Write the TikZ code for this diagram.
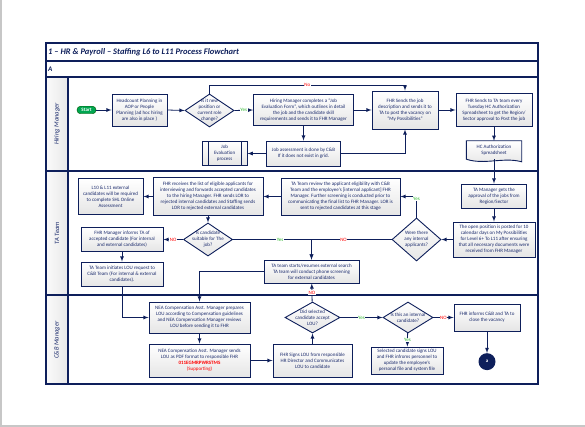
\documentclass[tikz,border=0pt]{standalone}
\usepackage{fontspec}
\setmainfont{Carlito}
\usepackage{tikz}
\usetikzlibrary{shapes.geometric}
\usetikzlibrary{positioning}
\usetikzlibrary{backgrounds}
\definecolor{navy}{HTML}{0E1F5B}
\definecolor{ink}{HTML}{1A2A6C}
\definecolor{yesgreen}{HTML}{2DB82D}
\definecolor{startgreen}{HTML}{00A651}
\newcommand{\boxfont}{\fontsize{5}{6}\selectfont}

\begin{document}
\begin{tikzpicture}
    [
    x=1pt,y=-1pt,
    box/.style={draw=navy,line width=0.9pt,top color=white,bottom color=black!10,align=center,inner sep=1pt,text=ink,font=\boxfont},
    dec/.style={diamond,draw=navy,line width=0.9pt,top color=white,bottom color=black!10,inner sep=0pt},
    dectext/.style={align=center,text=ink,font=\boxfont},
    conn/.style={draw=navy,line width=0.8pt,-latex},
    yeslab/.style={fill=white,text=yesgreen,inner sep=0.5pt,font=\boxfont},
    nolab/.style={fill=white,text=red,inner sep=0.5pt,font=\boxfont},
    lane/.style={rotate=90,text=ink,font=\fontsize{6.5}{7}\selectfont\itshape},
    startpt/.style={rounded corners=3.5pt,draw=green!35!black,fill=startgreen,text=white,inner sep=0pt,font=\boxfont\bfseries},
    endpt/.style={circle,fill=navy,text=white,minimum size=17,inner sep=0pt,font=\boxfont\bfseries},
    ]
    \useasboundingbox (0,0) rectangle (585,427);
    \fill[black!22] (0,0) rectangle (2,427);
    \fill[black!22] (0,424.5) rectangle (585,426.5);

    % frame and lanes
    \fill[left color=black!2,right color=black!9] (46,77) rectangle (68,384);
    \draw[navy,line width=1.1pt] (46,43) rectangle (538,384);
    \draw[navy,line width=1.1pt] (46,61) -- (538,61);
    \draw[navy,line width=1.1pt] (46,77) -- (538,77);
    \draw[navy,line width=1.1pt] (46,171) -- (538,171);
    \draw[navy,line width=1.1pt] (46,295) -- (538,295);
    \draw[navy,line width=1.1pt] (68,77) -- (68,384);
    \node (title) at (48,52) [anchor=west,inner sep=0pt,text=navy,font=\fontsize{8.5}{10}\selectfont\bfseries\itshape] {1 -- HR \& Payroll -- Staffing L6 to L11 Process Flowchart};
    \node (sec) at (48,69) [anchor=west,inner sep=0pt,text=navy,font=\fontsize{7}{8}\selectfont\bfseries\itshape] {A};
    \node (lhm) at (57,124) [lane] {Hiring Manager};
    \node (lta) at (57,233) [lane] {TA Team};
    \node (lcb) at (57,340) [lane] {C\&B Manager};

    % hiring manager
    \node (start) at (86.5,110) [startpt,minimum width=19,minimum height=7.5] {Start};
    \node (hc) at (139.5,110) [box,minimum width=55,minimum height=32] {Headcount Planning in\\AOP or People\\Planning (ad hoc hiring\\are also in place )};
    \node (d1) at (209.5,110.5) [dec,minimum width=49,minimum height=33,label={[dectext]center:{Is it new\\position or\\current role\\change?}}] {};
    \node (hm) at (303.5,110) [box,minimum width=100,minimum height=31] {Hiring Manager completes a ``Job\\Evaluation Form'', which outlines in detail\\the job and the candidate skill\\requirements and sends it to FHR Manager};
    \node (fhr) at (405,110) [box,minimum width=66,minimum height=38] {FHR Sends the job\\description and sends it to\\TA to post the vacancy on\\``My Possibilities''};
    \node (fhr2) at (494,110) [box,minimum width=76,minimum height=33] {FHR Sends to TA team every\\Tuesday HC Authorization\\Spreadsheet to get the Region/\\Sector approval to Post the job};
    \node (doc) at (494,150) [minimum width=55,minimum height=18,inner sep=0pt,align=center,text=ink,font=\boxfont] {HC Authorization\\Spreadsheet};
    \node (ja) at (303.5,153.5) [box,minimum width=74,minimum height=25] {Job assessment is done by C\&B\\If it does not exist in grid.};
    \node (jep) [box,left=18.5pt of ja,minimum width=45,minimum height=24] {Job\\Evaluation\\process};
    \draw[navy,line width=0.9pt] ([xshift=7pt]jep.north west) -- ([xshift=7pt]jep.south west);
    \draw[navy,line width=0.9pt] ([xshift=-6pt]jep.north east) -- ([xshift=-6pt]jep.south east);

    % TA team
    \node (l10) at (110.5,196.5) [box,minimum width=65,minimum height=36] {L10 \& L11 external\\candidates will be required\\to complete SHL Online\\Assessment};
    \node (fhrrec) at (208,196.5) [box,minimum width=110,minimum height=38] {FHR receives the list of eligible applicants for\\interviewing and forwards accepted candidates\\to the hiring Manager. FHR sends LOR to\\rejected internal candidates and Staffing sends\\LOR to rejected external candidates};
    \node (tarev) at (340.5,196.5) [box,minimum width=119,minimum height=37] {TA Team review the applicant eligibility with C\&B\\Team and the employee's [internal applicant] FHR\\Manager. Further screening is conducted prior to\\communicating the final list to FHR Manager. LOR is\\sent to rejected candidates at this stage};
    \node (tamgr) at (494,196) [box,minimum width=65,minimum height=24] {TA Manager gets the\\approval of the jobs from\\Region/Sector};
    \node (open) at (494,239.5) [box,minimum width=82,minimum height=35] {The open position is posted for 10\\calendar days on My Possibilities\\for Level 6+ To L11 after ensuring\\that all necessary documents were\\received from FHR Manager};
    \node (were) at (416.5,239.5) [dec,minimum width=49,minimum height=43,label={[dectext]center:{Were there\\any internal\\applicants?}}] {};
    \node (suit) at (208,239.5) [dec,minimum width=49,minimum height=33,label={[dectext]center:{Is candidate\\suitable for The\\job?}}] {};
    \node (fhrinf) at (122,239.5) [box,minimum width=82,minimum height=24] {FHR Manager informs TA of\\accepted candidate (For internal\\and external candidates)};
    \node (tainit) at (122,274) [box,minimum width=82,minimum height=24] {TA Team initiates LOU request to\\C\&B Team (For internal \& external\\candidates).};
    \node (tastart) at (311.5,271.5) [box,minimum width=95,minimum height=23] {TA team starts/resumes external search\\TA team will conduct phone screening\\for external candidates};

    % C&B manager
    \node (nea1) at (199.5,317.5) [box,minimum width=101,minimum height=31] {NEA Compensation Asst. Manager prepares\\LOU according to Compensation guidelines\\and NEA Compensation Manager reviews\\LOU before sending it to FHR};
    \node (nea2) at (199.5,360.5) [box,minimum width=101,minimum height=33] {NEA Compensation Asst. Manager sends\\LOU as PDF format to responsible FHR\\{\color{red}\bfseries 011EGMRPWRSTMS}\\{\color{red}(Supporting)}};
    \node (fhrsign) at (312.5,360.5) [box,minimum width=79,minimum height=33] {FHR Signs LOU from responsible\\HR Director and Communicates\\LOU to candidate};
    \node (dida) at (312.5,317.5) [dec,minimum width=55,minimum height=31,label={[dectext]center:{Did selected\\candidate accept\\LOU?}}] {};
    \node (isint) at (408,317.5) [dec,minimum width=50,minimum height=31,label={[dectext]center:{Is this an internal\\candidate?}}] {};
    \node (close) at (487,317.5) [box,minimum width=66,minimum height=27] {FHR informs C\&B and TA to\\close the vacancy};
    \node (end) [endpt,below=21.5pt of close] {a};
    \node (sel) at (407,360.5) [box,minimum width=72,minimum height=27] {Selected candidate signs LOU\\and FHR infroms personnel to\\update the employee's\\personal file and system file};

    \begin{scope}[on background layer]
      \draw[navy,line width=0.9pt,top color=white,bottom color=black!10] (doc.north west) -- (doc.north east) -- ++(0,21) .. controls +(-18,-5) and +(18,6) .. (doc.south west) -- cycle;
    \end{scope}

    % connectors
    \coordinate (k1) at (209.5,85);
    \draw [conn] (start) -- (hc);
    \draw [conn] (hc.east) -- (d1.west);
    \draw [conn] (d1.east) -- node[yeslab] {Yes} (hm.west);
    \draw [conn] (d1.north) -- (k1) -| node[nolab,pos=0.25] {No} (fhr.north);
    \draw [conn] (hm) -- (fhr);
    \draw [conn] (fhr) -- (fhr2);
    \draw [conn] (fhr2) -- (doc);
    \draw [conn] (hm) -- (ja);
    \draw [conn] (ja) -- (jep);
    \draw [conn] (ja.east) -| (fhr.south);
    \draw [conn] (doc.south) -- (tamgr.north);
    \draw [conn] (tamgr) -- (open);
    \draw [conn] (open) -- (were);
    \draw [conn] (were.north) |- node[yeslab,pos=0.45] {Yes} (tarev.east);
    \draw [conn] (tarev) -- (fhrrec);
    \draw [conn] (fhrrec) -- (l10);
    \draw [conn] (fhrrec) -- (suit);
    \draw [conn] (suit.west) -- node[nolab] {NO} (fhrinf.east);
    \draw [conn] (fhrinf) -- (tainit);
    \draw [conn] (were.west) -| node[nolab,pos=0.3] {NO} (tastart.north);
    \draw [conn] (suit.east) -| node[yeslab,pos=0.3] {Yes} (tastart.north);
    \draw [conn] (tainit.south) |- (nea1.west);
    \draw [conn] (tastart.west) -| (nea1.north);
    \draw [conn] (nea1) -- (nea2);
    \draw [conn] (nea2) -- (fhrsign);
    \draw [conn] (fhrsign) -- (dida);
    \draw [conn] (dida) -- node[nolab] {NO} (tastart);
    \draw [conn] (dida) -- node[yeslab] {Yes} (isint);
    \draw [conn] (isint) -- node[nolab] {NO} (close);
    \draw [conn] (close) -- (end);
    \draw [conn] (isint) -- node[yeslab] {Yes} (sel);
  \end{tikzpicture}
\end{document}
